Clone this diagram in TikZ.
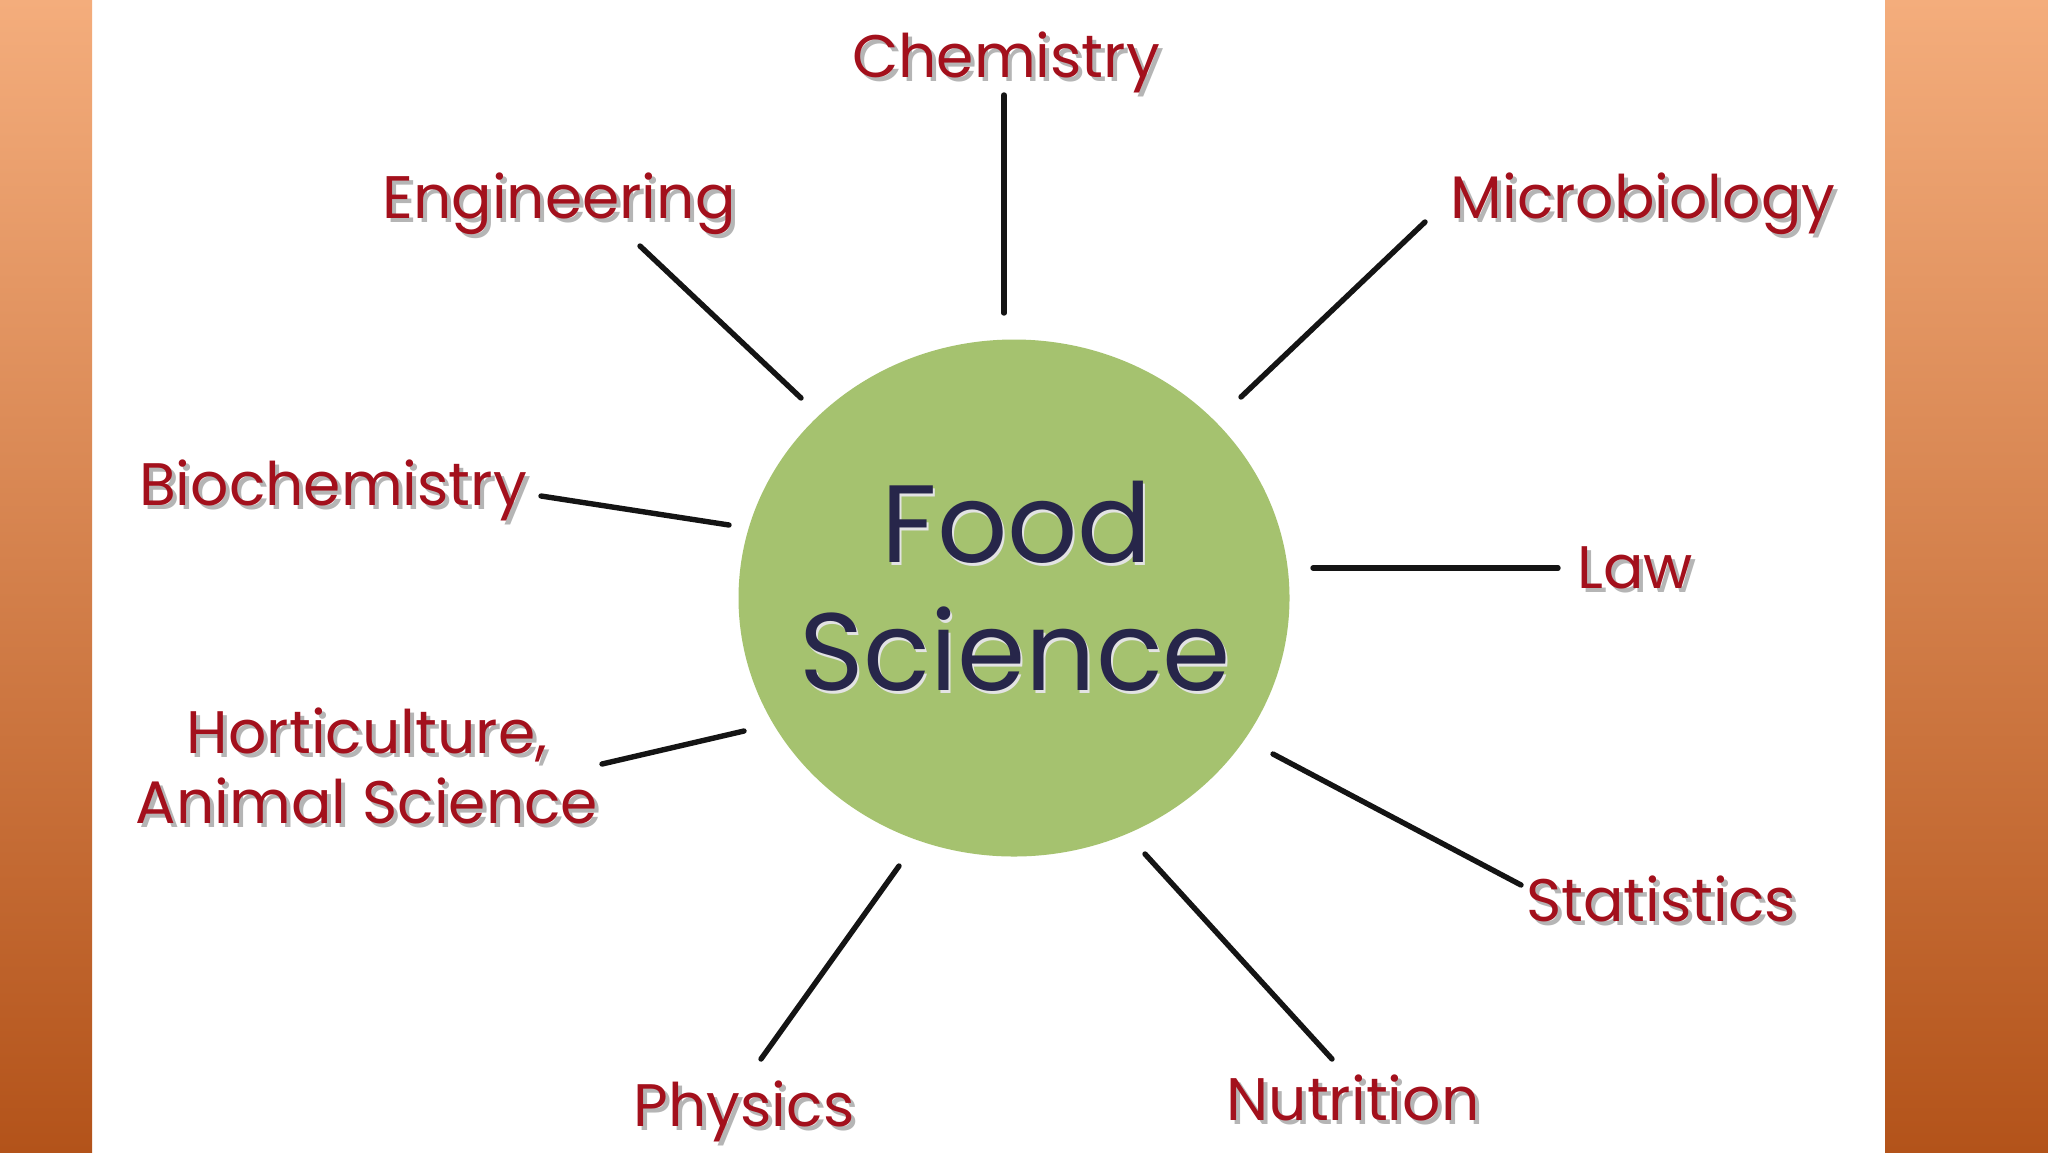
\documentclass[tikz,border=0pt]{standalone}
\usepackage{fontspec}
\setmainfont{Poppins}
\usetikzlibrary{calc,shapes.geometric}
\definecolor{lblred}{HTML}{A3101C}
\definecolor{shgrey}{HTML}{B5B5B5}
\definecolor{fsgreen}{HTML}{A5C26F}
\definecolor{fsnavy}{HTML}{27264A}
\definecolor{ortop}{HTML}{F4AD7C}
\definecolor{ormid}{HTML}{E9823C}
\definecolor{orbot}{HTML}{B3531A}
\newcommand{\shlabel}[3]{%
  \node[lbl, text=shgrey] at ($#2+(4,4)$) {#3};
  \node[lbl] (#1) at #2 {#3};}
\begin{document}
\begin{tikzpicture}[x=0.5pt,y=-0.5pt,
  lbl/.style={font=\fontsize{30}{35}\selectfont, text=lblred, inner sep=0pt, align=center},
  fstext/.style={font=\fontsize{55}{64}\selectfont, anchor=base, inner sep=0pt},
  spoke/.style={line width=2.7pt, draw=black!92, line cap=round}]
\useasboundingbox (0,0) rectangle (2048,1152);
\fill[white] (0,0) rectangle (2048,1152);
\shade[top color=ortop, middle color=ormid, bottom color=orbot] (0,0) rectangle (92,1152);
\shade[top color=ortop, middle color=ormid, bottom color=orbot] (1885,0) rectangle (2048,1152);
% central disc
\node[ellipse, fill=fsgreen, minimum width=275.5pt, minimum height=258.5pt, inner sep=0pt] (fs) at (1014,598) {};
\node[fstext, text=white!78!gray] at (1019,565) {Food};
\node[fstext, text=fsnavy] (food) at (1017,562) {Food};
\node[fstext, text=white!78!gray] at (1017,693) {Science};
\node[fstext, text=fsnavy] (sci) at (1015,690) {Science};
% labels
\shlabel{chem}{(1006,62)}{Chemistry}
\shlabel{eng}{(559,204)}{Engineering}
\shlabel{micro}{(1643,204)}{Microbiology}
\shlabel{bio}{(333,490)}{Biochemistry}
\shlabel{law}{(1635,568)}{Law}
\shlabel{hort}{(367,766)}{Horticulture,\\Animal Science}
\shlabel{stat}{(1661,899)}{Statistics}
\shlabel{phys}{(744,1111)}{Physics}
\shlabel{nutr}{(1353,1098)}{Nutrition}
% spoke ends
\coordinate (a1) at (1004,95);  \coordinate (b1) at (1004,313);
\coordinate (a2) at (640,246);  \coordinate (b2) at (801,398);
\coordinate (a3) at (1425,222); \coordinate (b3) at (1241,397);
\coordinate (a4) at (541,496);  \coordinate (b4) at (729,525);
\coordinate (a5) at (1558,568); \coordinate (b5) at (1313,568);
\coordinate (a6) at (602,764);  \coordinate (b6) at (744,731);
\coordinate (a7) at (1521,885); \coordinate (b7) at (1273,754);
\coordinate (a8) at (1332,1059);\coordinate (b8) at (1145,854);
\coordinate (a9) at (761,1059); \coordinate (b9) at (899,866);
\foreach \i in {1,...,9} {\draw[spoke] (a\i) -- (b\i);}
\end{tikzpicture}
\end{document}
